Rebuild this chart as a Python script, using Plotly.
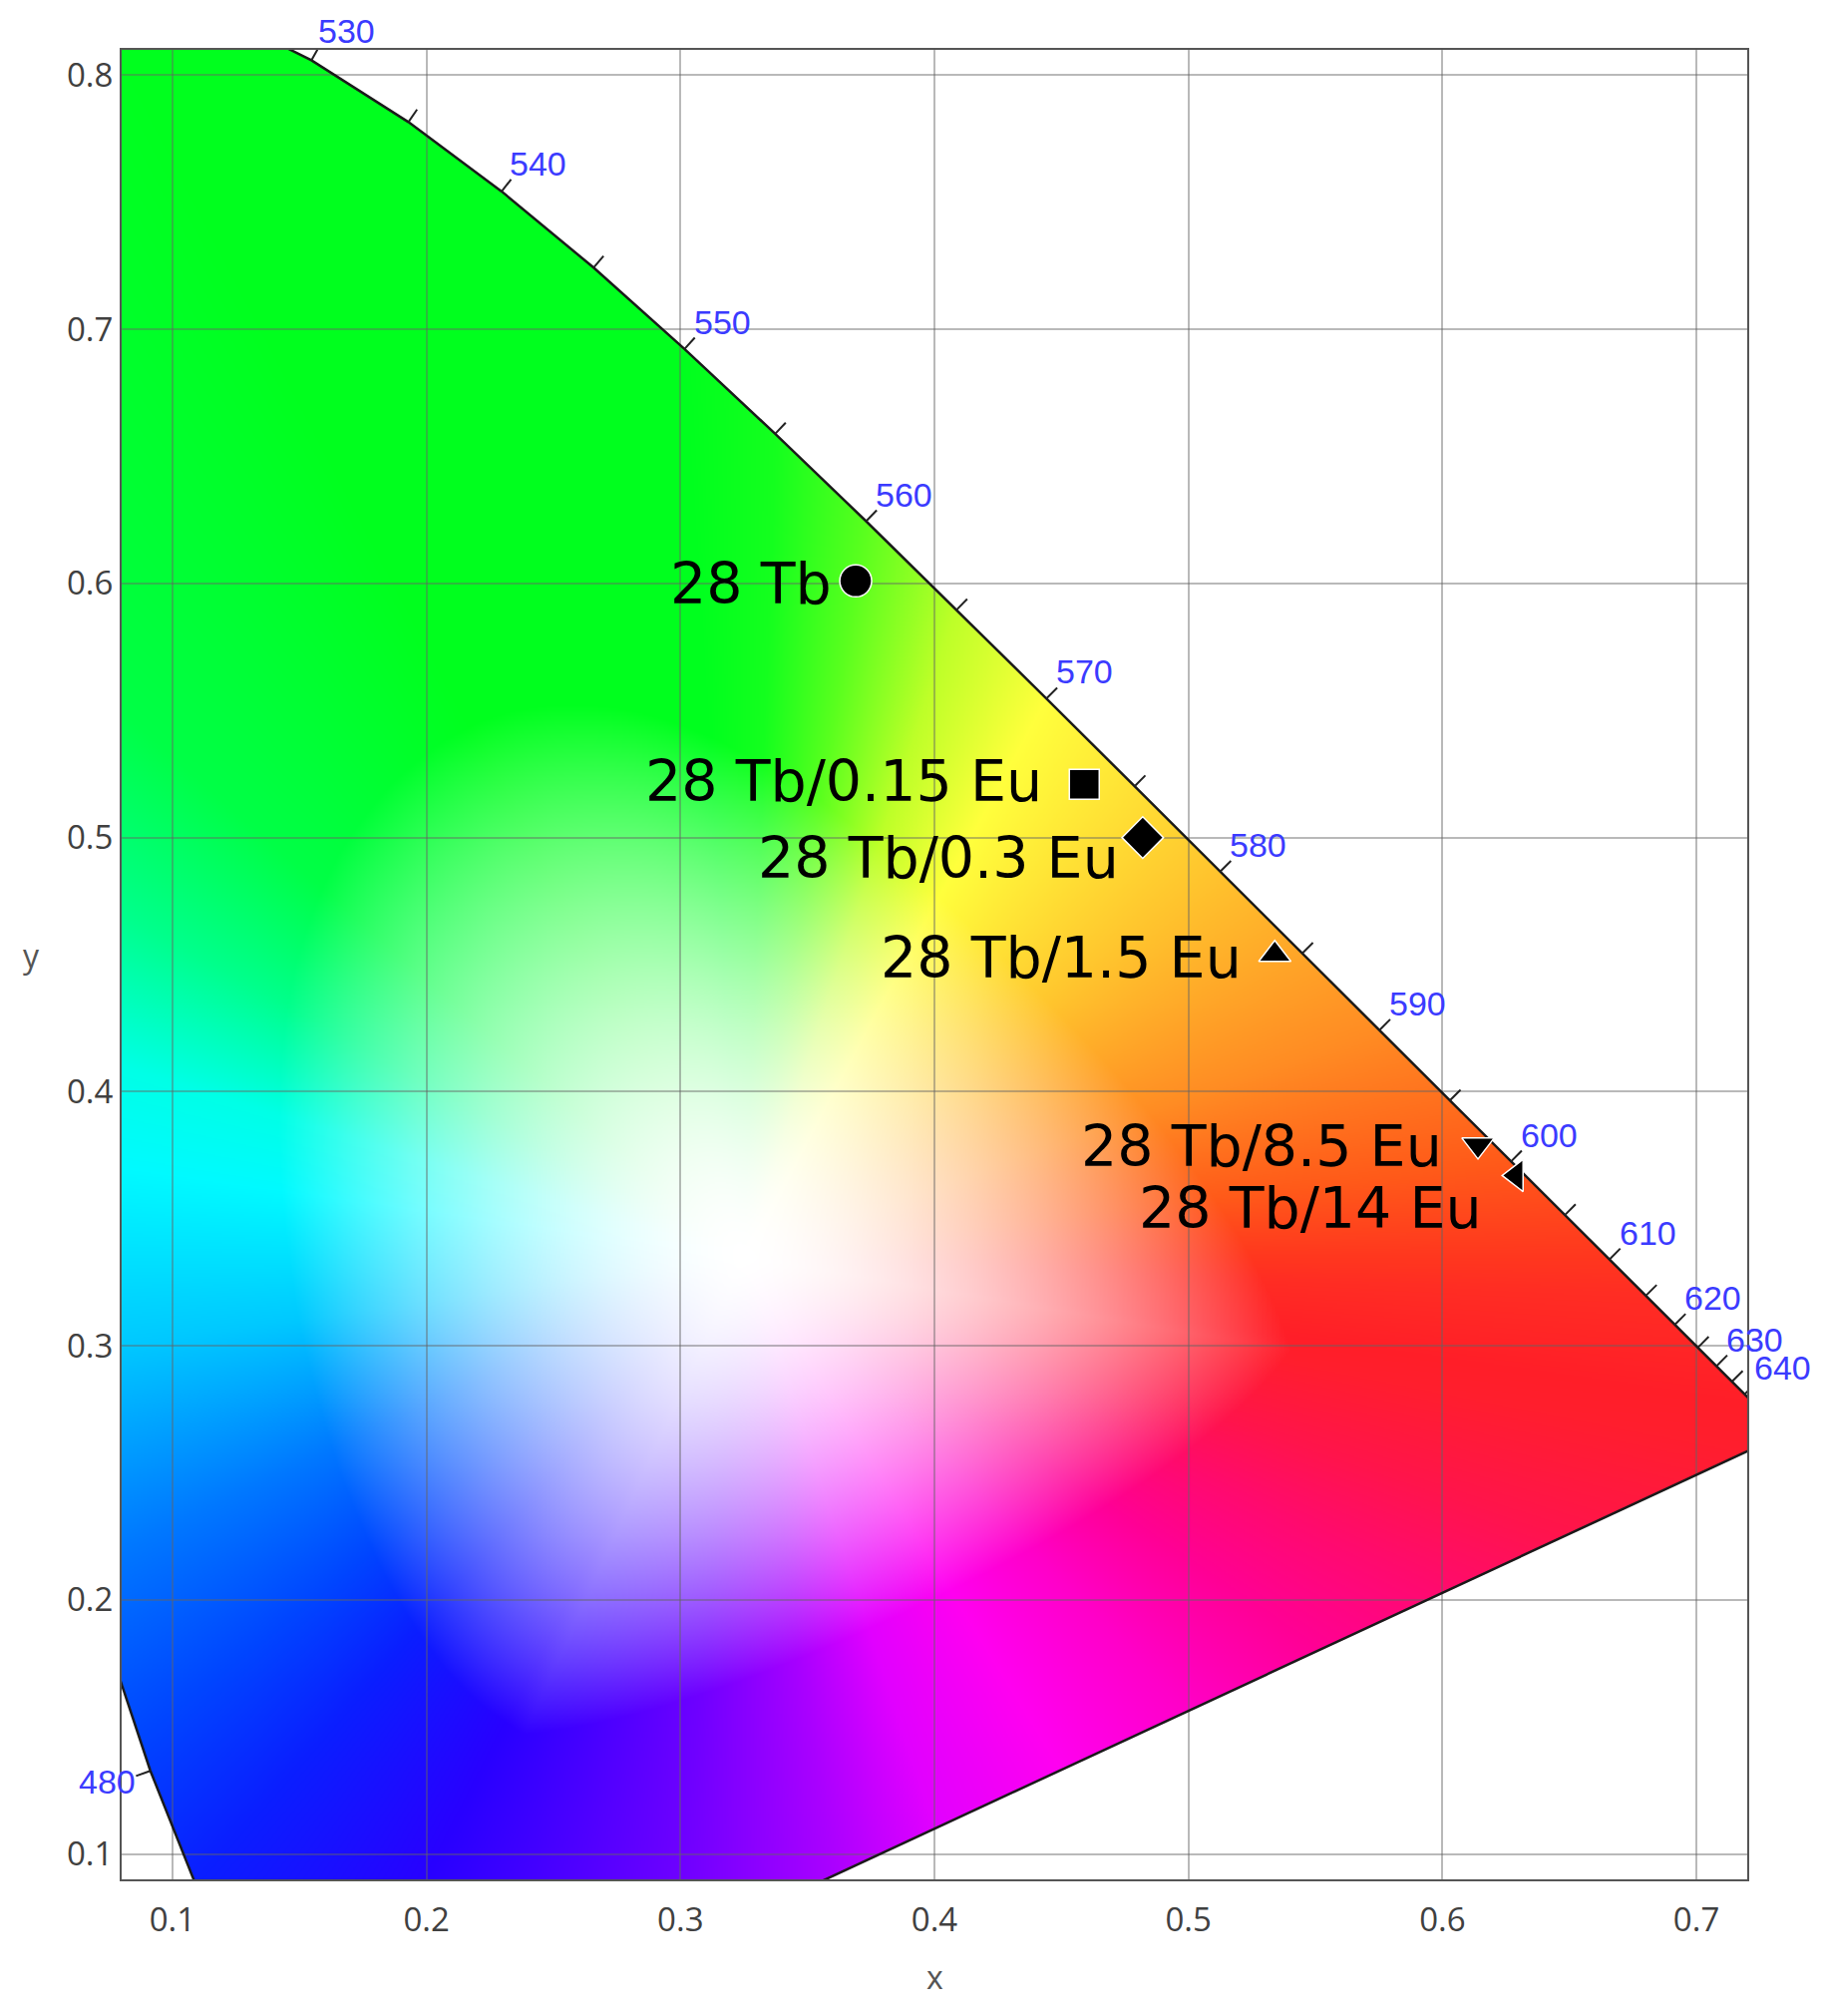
import base64
import struct
import zlib

import numpy as np
import plotly.graph_objects as go

# CIE 1931 2-degree spectral locus (chromaticity x, y), 5 nm steps
wavelength = list(range(380, 705, 5))
locus_x = [0.1741, 0.1740, 0.1738, 0.1736, 0.1733, 0.1730, 0.1726, 0.1721, 0.1714, 0.1703,
           0.1689, 0.1669, 0.1644, 0.1611, 0.1566, 0.1510, 0.1440, 0.1355, 0.1241, 0.1096,
           0.0913, 0.0687, 0.0454, 0.0235, 0.0082, 0.0039, 0.0139, 0.0389, 0.0743, 0.1142,
           0.1547, 0.1929, 0.2296, 0.2658, 0.3016, 0.3373, 0.3731, 0.4087, 0.4441, 0.4788,
           0.5125, 0.5448, 0.5752, 0.6029, 0.6270, 0.6482, 0.6658, 0.6801, 0.6915, 0.7006,
           0.7079, 0.7140, 0.7190, 0.7230, 0.7260, 0.7283, 0.7300, 0.7311, 0.7320, 0.7327,
           0.7334, 0.7340, 0.7344, 0.7346, 0.7347]
locus_y = [0.0050, 0.0050, 0.0049, 0.0049, 0.0048, 0.0048, 0.0048, 0.0048, 0.0051, 0.0058,
           0.0069, 0.0086, 0.0109, 0.0138, 0.0177, 0.0227, 0.0297, 0.0399, 0.0578, 0.0868,
           0.1327, 0.2007, 0.2950, 0.4127, 0.5384, 0.6548, 0.7502, 0.8120, 0.8338, 0.8262,
           0.8059, 0.7816, 0.7543, 0.7243, 0.6923, 0.6589, 0.6245, 0.5896, 0.5547, 0.5202,
           0.4866, 0.4544, 0.4242, 0.3965, 0.3725, 0.3514, 0.3340, 0.3197, 0.3083, 0.2993,
           0.2920, 0.2859, 0.2809, 0.2770, 0.2740, 0.2717, 0.2700, 0.2689, 0.2680, 0.2673,
           0.2666, 0.2660, 0.2656, 0.2654, 0.2653]

# measured samples
samples = ["28 Tb", "28 Tb/0.15 Eu", "28 Tb/0.3 Eu", "28 Tb/1.5 Eu", "28 Tb/8.5 Eu", "28 Tb/14 Eu"]
sample_x = [0.369, 0.459, 0.482, 0.534, 0.614, 0.629]
sample_y = [0.601, 0.521, 0.500, 0.454, 0.379, 0.367]

x_range = [0.08, 0.72]
y_range = [0.09, 0.81]
x_ticks = [0.1, 0.2, 0.3, 0.4, 0.5, 0.6, 0.7]
y_ticks = [0.1, 0.2, 0.3, 0.4, 0.5, 0.6, 0.7, 0.8]

# colour key of the fill: saturated colour seen at the rim, by direction (x, y) from white
rim_x = [0.72, 0.70, 0.68, 0.66, 0.627, 0.575, 0.5125, 0.4441, 0.4087, 0.3731, 0.3373, 0.30,
         0.08, 0.08, 0.08, 0.08, 0.08, 0.08, 0.08, 0.09, 0.11, 0.20, 0.30, 0.36,
         0.40, 0.45, 0.50, 0.55, 0.60, 0.65]
rim_y = [0.26, 0.28, 0.32, 0.335, 0.3725, 0.424, 0.4866, 0.5547, 0.5896, 0.6245, 0.6589, 0.70,
         0.81, 0.55, 0.47, 0.41, 0.37, 0.30, 0.22, 0.15, 0.09, 0.09, 0.09, 0.09,
         0.11, 0.133, 0.156, 0.18, 0.203, 0.226]
rim_rgb = [(255, 30, 45), (255, 30, 40), (255, 45, 35), (255, 55, 30), (255, 90, 25),
           (255, 140, 35), (255, 195, 45), (255, 255, 60), (190, 255, 40), (90, 255, 30),
           (20, 255, 30), (0, 255, 30), (0, 255, 30), (0, 255, 70), (0, 255, 140),
           (0, 255, 230), (0, 250, 255), (0, 200, 255), (0, 120, 255), (0, 70, 255),
           (10, 30, 255), (40, 0, 255), (110, 0, 255), (170, 0, 255), (225, 0, 255),
           (255, 0, 240), (255, 0, 200), (255, 0, 150), (255, 10, 110), (255, 20, 75)]

# styling
symbols = ["circle", "square", "diamond", "triangle-up", "triangle-down", "triangle-left"]
sizes = [32, 30, 32, 28, 28, 28]
label_shift = [(-22, -3), (-40, 3), (-22, -20), (-31, -3), (-34, -1), (-32, -33)]
white_pt = (0.325, 0.335)
TICK = 0.006
PX_PER_UNIT = 2547
STEP = 0.0005


def png_uri(rgba):
    h, w, _ = rgba.shape
    raw = np.concatenate([np.zeros((h, 1), np.uint8), rgba.reshape(h, w * 4)], axis=1).tobytes()

    def chunk(tag, data):
        return struct.pack(">I", len(data)) + tag + data + struct.pack(">I", zlib.crc32(tag + data) & 0xffffffff)

    png = (b"\x89PNG\r\n\x1a\n" + chunk(b"IHDR", struct.pack(">IIBBBBB", w, h, 8, 6, 0, 0, 0))
           + chunk(b"IDAT", zlib.compress(raw, 6)) + chunk(b"IEND", b""))
    return "data:image/png;base64," + base64.b64encode(png).decode()


# boundary of the gamut (locus + purple line), densified
lx = np.array(locus_x)
ly = np.array(locus_y)
bx = np.append(lx, lx[0])
by = np.append(ly, ly[0])
s = np.linspace(0, 1, 40, endpoint=False)
dbx = np.concatenate([bx[i] + (bx[i + 1] - bx[i]) * s for i in range(len(bx) - 1)])
dby = np.concatenate([by[i] + (by[i + 1] - by[i]) * s for i in range(len(by) - 1)])
b_th = np.arctan2(dby - white_pt[1], dbx - white_pt[0])
b_r = np.hypot(dbx - white_pt[0], dby - white_pt[1])
order = np.argsort(b_th)
b_th, b_r = b_th[order], b_r[order]

k_th = np.arctan2(np.array(rim_y) - white_pt[1], np.array(rim_x) - white_pt[0])
k_col = np.array(rim_rgb, float) / 255
order = np.argsort(k_th)
k_th, k_col = k_th[order], k_col[order]

# colour fill of the diagram
nx = int(round((x_range[1] - x_range[0]) / STEP))
ny = int(round((y_range[1] - y_range[0]) / STEP))
gx = x_range[0] + (np.arange(nx) + 0.5) * STEP
gy = y_range[1] - (np.arange(ny) + 0.5) * STEP
PX, PY = np.meshgrid(gx, gy)
th = np.arctan2(PY - white_pt[1], PX - white_pt[0])
r = np.hypot(PX - white_pt[0], PY - white_pt[1])
R = np.interp(th, b_th, b_r, period=2 * np.pi)
col = np.stack([np.interp(th, k_th, k_col[:, c], period=2 * np.pi) for c in range(3)], axis=-1)
reach = (R ** -4 + 0.36 ** -4) ** -0.25
t = r / reach
f = np.clip(t / 0.68, 0, 1) ** 1.7
rgb = 1 - (1 - col) * f[..., None]
alpha = np.clip((R - r) / STEP + 0.5, 0, 1)
rgba = np.concatenate([rgb, alpha[..., None]], axis=-1)
rgba = (np.clip(rgba, 0, 1) * 255 + 0.5).astype(np.uint8)
fill_uri = png_uri(rgba)

# wavelength tick marks and labels
tick_x, tick_y = [], []
labels = []
for i in range(1, len(wavelength) - 1):
    px, py = lx[i], ly[i]
    if not (x_range[0] <= px <= x_range[1] and y_range[0] <= py <= y_range[1]):
        continue
    tx, ty = lx[i + 1] - lx[i - 1], ly[i + 1] - ly[i - 1]
    nrm = np.hypot(tx, ty)
    nx_, ny_ = ty / nrm, -tx / nrm
    if nx_ * (px - white_pt[0]) + ny_ * (py - white_pt[1]) < 0:
        nx_, ny_ = -nx_, -ny_
    tick_x += [px, px + nx_ * TICK, None]
    tick_y += [py, py + ny_ * TICK, None]
    if wavelength[i] % 10 == 0:
        labels.append((px, py, nx_, ny_, str(wavelength[i])))

fig = go.Figure()

fig.add_trace(go.Scatter(x=list(lx) + [lx[0]], y=list(ly) + [ly[0]], mode="lines",
                         line=dict(color="#1a1a1a", width=2.5), hoverinfo="skip"))
fig.add_trace(go.Scatter(x=tick_x, y=tick_y, mode="lines",
                         line=dict(color="#222222", width=2), hoverinfo="skip"))
fig.add_trace(go.Scatter(x=sample_x, y=sample_y, mode="markers",
                         marker=dict(symbol=symbols, size=sizes, color="black", opacity=1,
                                     line=dict(color="white", width=1.5)),
                         hoverinfo="skip"))

tick_px = TICK * PX_PER_UNIT
for px, py, nx_, ny_, txt in labels:
    right = nx_ > 0
    fig.add_annotation(x=px, y=py, text=txt, showarrow=False,
                       xanchor="left" if right else "right",
                       yanchor="bottom" if right else "middle",
                       xshift=nx_ * tick_px + (-3 if right else 2),
                       yshift=ny_ * tick_px + (-5 if right else -6),
                       font=dict(family="Liberation Sans", size=34, color="#3b3bff"))

for name, xv, yv, (sx, sy) in zip(samples, sample_x, sample_y, label_shift):
    fig.add_annotation(x=xv, y=yv, text=name, showarrow=False, xanchor="right", yanchor="middle",
                       xshift=sx, yshift=sy,
                       font=dict(family="DejaVu Sans", size=57, color="black"))

fig.add_annotation(x=0.5, y=-0.066, xref="paper", yref="paper", text="x", showarrow=False,
                   font=dict(family="Open Sans", size=32, color="#555555"))
fig.add_annotation(x=-0.062, y=0.505, xref="paper", yref="paper", text="y", showarrow=False,
                   font=dict(family="Open Sans", size=32, color="#555555"))

fig.add_layout_image(source=fill_uri, xref="x", yref="y", x=x_range[0], y=y_range[1],
                     sizex=x_range[1] - x_range[0], sizey=y_range[1] - y_range[0],
                     xanchor="left", yanchor="top", sizing="stretch", layer="below")

axis_style = dict(showgrid=True, gridcolor="rgba(100,100,100,0.45)", gridwidth=2,
                  zeroline=False, showline=True, linecolor="#555555", linewidth=2, mirror=True,
                  tickfont=dict(family="Open Sans", size=33, color="#404040"))

fig.update_layout(
    width=1830, height=2021,
    margin=dict(l=114, r=86, t=42, b=145),
    paper_bgcolor="white", plot_bgcolor="white",
    showlegend=False,
    xaxis=dict(range=x_range, tickvals=x_ticks, ticktext=[str(v) for v in x_ticks],
               ticks="outside", ticklen=10, tickcolor="rgba(0,0,0,0)", **axis_style),
    yaxis=dict(range=y_range, tickvals=y_ticks, ticktext=[str(v) for v in y_ticks],
               ticks="", **axis_style),
)

fig.write_html("out.html")
